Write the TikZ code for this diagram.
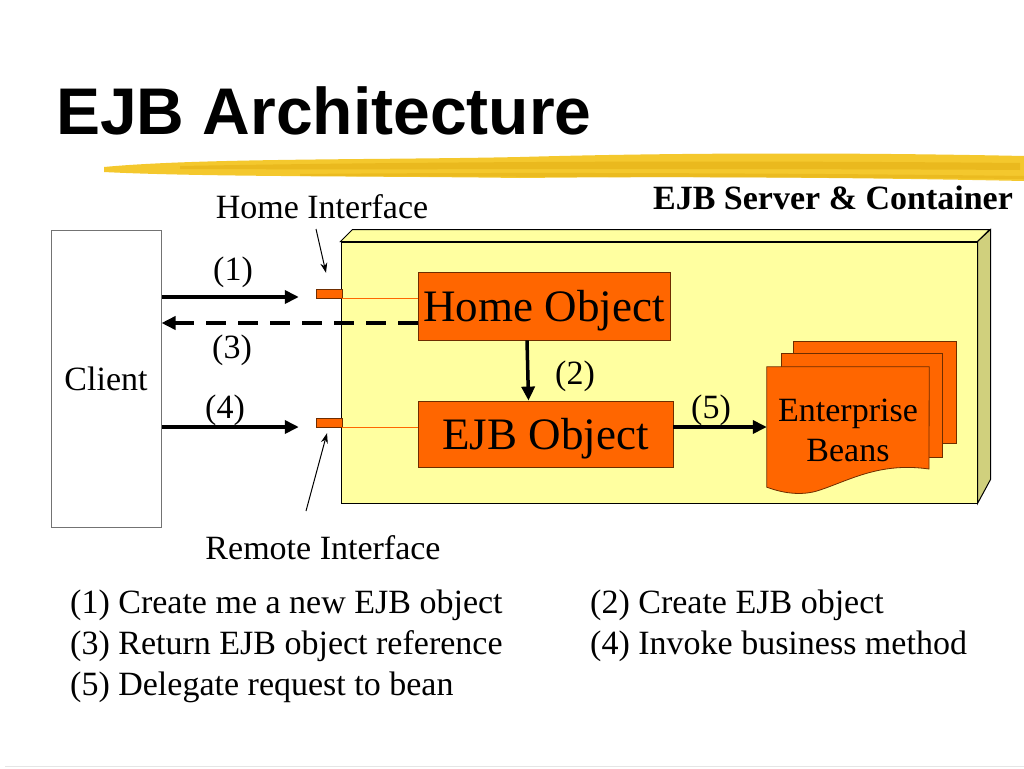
\documentclass[tikz,border=0pt]{standalone}
\usepackage{fontspec}
\setmainfont{Liberation Serif}
\newfontfamily\headfont{Liberation Sans}
\usepackage{tikz}
\usetikzlibrary{arrows.meta}
\definecolor{beanorange}{RGB}{255,102,0}
\definecolor{beanedge}{RGB}{110,45,0}
\definecolor{boxyellow}{RGB}{255,255,160}
\definecolor{sideyellow}{RGB}{208,208,125}
\definecolor{brushyellow}{RGB}{244,200,45}
\definecolor{brushdark}{RGB}{228,176,20}
\tikzset{
  font={\fontsize{34}{40}\selectfont}}

\begin{document}
\begin{tikzpicture}[x=1pt,y=-1pt]
\tikzstyle{every node}+=[inner sep=0pt]
\tikzstyle{objbox}=[draw=beanedge, fill=beanorange, line width=0.8pt, text depth=0pt, font={\fontsize{45}{50}\selectfont}]
\tikzstyle{stub}=[draw=beanedge, fill=beanorange, line width=0.4pt, minimum width=26pt, minimum height=9pt]
\tikzstyle{page}=[draw=beanedge, fill=beanorange, line width=0.8pt]
\tikzstyle{flow}=[line width=3.5pt, -{Triangle[length=14pt,width=13pt]}]
\tikzstyle{pointer}=[line width=1pt, -{Stealth[length=10pt,width=7pt]}]
\useasboundingbox (0,0) rectangle (1024,768);
\fill[white] (0,0) rectangle (1024,768);
\draw[black!10, line width=1pt] (5,766) -- (1024,766);
% title and brush stroke
\node[anchor=base west, font={\headfont\bfseries\fontsize{66}{72}\selectfont}] (title) at (56,134) {EJB Architecture};
\fill[brushyellow] (104,167) .. controls (200,158) and (380,160) .. (520,157)
  .. controls (700,152) and (880,153) .. (1024,156) -- (1024,181)
  .. controls (880,178) and (700,176) .. (520,178)
  .. controls (380,176) and (200,177) .. (104,172) -- cycle;
\fill[brushdark, opacity=0.6] (180,166) .. controls (400,162) and (700,160) .. (1020,163)
  -- (1020,170) .. controls (700,168) and (400,170) .. (180,169) -- cycle;
\fill[brushdark, opacity=0.5] (300,174) .. controls (500,172) and (800,173) .. (1024,176)
  -- (1024,179) .. controls (800,177) and (500,177) .. (300,176) -- cycle;
% container
\node[draw, fill=boxyellow, line width=1pt, minimum width=636pt, minimum height=261pt] (server) at (659,372.5) {};
\draw[fill=boxyellow, line width=1pt] (server.north west) -- ++(12,-12) -- ++(637,0) -- (server.north east) -- cycle;
\draw[fill=sideyellow, line width=1pt] (server.north east) -- ++(13,-12) -- ++(0,250) -- (server.south east) -- cycle;
\node[font={\bfseries\fontsize{34}{40}\selectfont}] (serverlbl) at (833,198) {EJB Server \& Container};
% client
\node[draw=black!55, fill=white, line width=1pt, minimum width=110pt, minimum height=297pt] (client) at (106,378.5) {Client};
% objects
\node[objbox, minimum width=252pt, minimum height=68pt] (home) at (544,306) {Home Object};
\node[objbox, minimum width=255pt, minimum height=66pt] (ejb) at (545.5,434) {EJB Object};
\node[stub] (homestub) at (329,293.5) {};
\node[stub] (remotestub) at (329,422.5) {};
\draw[beanorange, line width=0.7pt] (homestub.south east) -- (homestub.south east -| home.west);
\draw[beanorange, line width=0.7pt] (remotestub.south east) -- (remotestub.south east -| ejb.west);
% enterprise beans
\draw[page] (793,341) rectangle (956,443);
\draw[page] (781,353) rectangle (942,457);
\node[minimum width=162pt, minimum height=120pt] (beans) at (848,427) {};
\draw[page] (beans.north west) -- (beans.north east) -- (929,469)
  .. controls (880,462) and (850,480) .. (820,490)
  .. controls (800,497) and (780,492) .. (beans.south west) -- cycle;
\node[align=center] (beanslbl) at (848,430) {Enterprise\\[0pt]Beans};
% flows
\draw[flow, shorten >=17pt] (client.east |- 0,297) -- (homestub.west |- 0,297);
\draw[flow, dash pattern=on 20pt off 12pt] (home.west |- 0,323) -- (client.east |- 0,323);
\draw[flow, shorten >=17pt] (client.east |- 0,427) -- (remotestub.west |- 0,427);
\draw[flow] ([xshift=-17pt]home.south) -- ([xshift=-17pt]ejb.north);
\draw[flow] (ejb.east |- beans.west) -- (beans.west);
\node (n1) at (233,272) {(1)};
\node (n3) at (232,350) {(3)};
\node (n4) at (225,410) {(4)};
\node (n2) at (575,376) {(2)};
\node (n5) at (711,410) {(5)};
% interface pointers
\node (homelbl) at (322,207) {Home Interface};
\node (remotelbl) at (323,548) {Remote Interface};
\coordinate (hp) at (316,229);
\coordinate (rp) at (306,511);
\draw[pointer] (hp) -- ([xshift=-3pt,yshift=16pt]homestub.north);
\draw[pointer] (rp) -- ([xshift=-2pt,yshift=-6pt]remotestub.south);
% legend
\node[anchor=base west] (step1) at (70,613) {(1) Create me a new EJB object};
\node[anchor=base west] (step3) at (70,654) {(3) Return EJB object reference};
\node[anchor=base west] (step5) at (70,695) {(5) Delegate request to bean};
\node[anchor=base west] (step2) at (590,613) {(2) Create EJB object};
\node[anchor=base west] (step4) at (590,654) {(4) Invoke business method};
\end{tikzpicture}
\end{document}
